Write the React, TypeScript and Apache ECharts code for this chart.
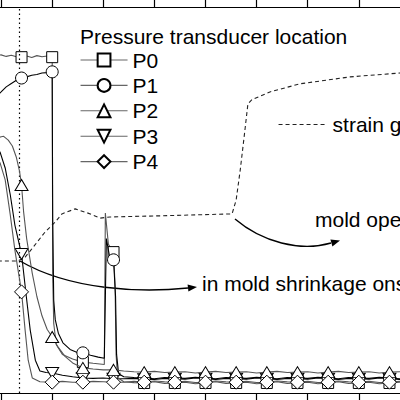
import React, { useEffect, useRef } from "react";
import * as echarts from "echarts";

// x positions (axis units, 1 unit = one tick) where the markers sit
const MARKER_X = [0.4, 1.0, 1.6, 2.2, 2.8, 3.4, 4.0, 4.6, 5.2, 5.8, 6.4, 7.0, 7.6, 8.2, 8.8];

// common x grid for the flat tail of all pressure curves
const TAIL_X = [2.4, 2.6, 2.8, 3.0, 3.2, 3.4, 3.6, 3.8, 4.0, 4.2, 4.4, 4.6, 4.8, 5.0, 5.2, 5.4, 5.6, 5.8, 6.0, 6.2, 6.4, 6.6, 6.8, 7.0, 7.2, 7.4, 7.6, 7.8, 8.0, 8.2, 8.4, 8.6, 8.8, 9.0];

const P0_HEAD = [
  [-0.2, 87.4], [0.0, 87.6], [0.1, 87.2], [0.2, 87.5], [0.3, 87.1], [0.4, 87.0], [0.5, 87.3], [0.6, 86.9],
  [0.7, 87.4], [0.8, 87.1], [0.9, 87.3], [1.0, 87.0], [1.01, 30.0], [1.03, 18.0], [1.08, 12.5], [1.2, 10.0],
  [1.4, 8.8], [1.6, 8.0], [1.8, 7.7], [2.02, 7.4], [2.04, 46.6], [2.1, 38.5], [2.2, 36.5], [2.23, 28.0],
  [2.25, 10.0], [2.28, 4.0],
];
const P0_TAIL = [2.9, 2.7, 2.6, 2.9, 2.5, 2.6, 2.8, 2.4, 2.6, 2.9, 2.5, 2.6, 2.8, 2.4, 2.6, 2.9, 2.5, 2.6, 2.8, 2.4, 2.6, 2.9, 2.5, 2.6, 2.8, 2.4, 2.6, 2.8, 2.5, 2.6, 2.7, 2.5, 2.6, 2.7];

const P1_HEAD = [
  [-0.2, 75.5], [0.0, 78.0], [0.1, 79.3], [0.2, 80.2], [0.3, 81.0], [0.4, 81.6], [0.5, 81.9], [0.6, 82.3],
  [0.7, 82.5], [0.8, 82.9], [0.9, 83.0], [1.0, 83.2], [1.01, 45.0], [1.03, 24.0], [1.06, 19.0], [1.12, 15.5],
  [1.21, 13.0], [1.35, 11.3], [1.49, 10.5], [1.6, 10.4], [1.75, 9.8], [1.9, 9.3], [2.02, 9.0], [2.06, 40.0],
  [2.12, 35.5], [2.2, 34.5], [2.24, 25.0], [2.26, 10.0], [2.3, 5.0],
];
const P1_TAIL = [4.2, 4.0, 3.9, 3.7, 4.0, 3.9, 3.8, 4.1, 3.9, 3.7, 4.0, 3.9, 3.8, 4.1, 3.9, 3.7, 4.0, 3.9, 3.8, 4.1, 3.9, 3.7, 4.0, 3.9, 3.8, 4.1, 3.9, 3.7, 4.0, 3.9, 3.8, 4.0, 3.9, 3.8];

const P2_HEAD = [
  [-0.2, 63.5], [-0.02, 66.3], [0.05, 66.5], [0.14, 65.5], [0.22, 64.0], [0.3, 61.0], [0.36, 57.5], [0.4, 53.9],
  [0.44, 47.0], [0.5, 40.0], [0.61, 31.0], [0.7, 25.0], [0.8, 20.0], [0.9, 16.5], [1.0, 14.5], [1.12, 11.8],
  [1.25, 9.5], [1.4, 7.8], [1.6, 6.5], [1.8, 6.2], [2.0, 6.0], [2.2, 6.0],
];
const P2_TAIL = [5.7, 5.5, 5.4, 5.6, 5.3, 5.4, 5.5, 5.2, 5.4, 5.6, 5.3, 5.4, 5.5, 5.2, 5.4, 5.6, 5.3, 5.4, 5.5, 5.2, 5.4, 5.6, 5.3, 5.4, 5.5, 5.2, 5.4, 5.5, 5.3, 5.4, 5.5, 5.3, 5.4, 5.5];

const P3_HEAD = [
  [-0.2, 64.8], [-0.02, 62.4], [0.08, 58.3], [0.18, 51.3], [0.27, 43.5], [0.4, 36.0], [0.49, 25.4], [0.57, 16.3],
  [0.67, 8.5], [0.76, 5.7], [0.88, 5.3], [1.0, 5.2], [1.2, 4.6], [1.4, 4.2], [1.6, 3.9], [1.8, 3.8], [2.0, 3.9], [2.2, 3.7],
];
const P3_TAIL = [3.7, 3.8, 3.6, 3.5, 3.8, 3.7, 3.6, 3.9, 3.7, 3.5, 3.8, 3.7, 3.6, 3.9, 3.7, 3.5, 3.8, 3.7, 3.6, 3.9, 3.7, 3.5, 3.8, 3.7, 3.6, 3.9, 3.7, 3.5, 3.8, 3.7, 3.6, 3.8, 3.7, 3.6];

const P4_HEAD = [
  [-0.2, 62.0], [-0.02, 59.6], [0.08, 55.2], [0.18, 46.1], [0.27, 37.0], [0.4, 26.2], [0.47, 16.3], [0.53, 8.5],
  [0.61, 3.9], [0.76, 2.9], [1.0, 2.8], [1.2, 3.0], [1.4, 2.8], [1.6, 2.8], [1.8, 3.0], [2.0, 2.9], [2.2, 2.8],
];
const P4_TAIL = [2.8, 3.0, 2.8, 3.1, 2.9, 2.8, 3.0, 2.7, 2.8, 3.1, 2.9, 2.8, 3.0, 2.7, 2.8, 3.1, 2.9, 2.8, 3.0, 2.7, 2.8, 3.1, 2.9, 2.8, 3.0, 2.7, 2.8, 3.0, 2.9, 2.8, 3.0, 2.8, 2.8, 2.9];

const STRAIN = [
  [-0.2, 34.2], [0.33, 34.2], [0.47, 35.2], [0.57, 36.8], [0.86, 41.7], [1.06, 44.3], [1.19, 46.4], [1.45, 47.7],
  [1.7, 46.6], [1.94, 45.3], [2.13, 45.6], [3.11, 45.9], [4.52, 46.4], [4.6, 50.0], [4.68, 57.8], [4.76, 66.8],
  [4.83, 74.9], [4.91, 76.0], [5.07, 76.9], [5.26, 78.0], [5.85, 80.1], [6.83, 81.9], [7.81, 82.9], [8.98, 83.4],
];

const SHRINK_ONSET_X = 0.35;

const SERIES_NAMES = ["P0", "P1", "P2", "P3", "P4"];
const LEGEND_TITLE = "Pressure transducer location";
const STRAIN_NAME = "strain gauge";
const MOLD_OPENING = "mold opening";
const SHRINK_LABEL = "in mold shrinkage onset";

const FONT = '"Liberation Sans", Arial, Helvetica, sans-serif';
const FS = 21;
// the chart canvas is shifted left so the plot's left edge falls outside the view
const OX = 60;

function build(head: number[][], tail: number[]) {
  const pts = head.concat(TAIL_X.map((x, i) => [x, tail[i]]).filter((p) => p[1] !== undefined));
  return pts.map(([x, y]) =>
    MARKER_X.some((m) => Math.abs(m - x) < 1e-6) ? { value: [x, y] } : { value: [x, y], symbol: "none" }
  );
}

function pSeries(name: string, data: any, symbol: string, size: any, color: string, z: number, rotate = 0) {
  return {
    name,
    type: "line",
    data: build(data[0], data[1]),
    symbol,
    symbolSize: size,
    symbolRotate: rotate,
    showSymbol: true,
    showAllSymbol: true,
    lineStyle: { color, width: 1.1 },
    itemStyle: { color: "#fff", borderColor: "#000", borderWidth: 1 },
    emphasis: { disabled: true },
    z,
  };
}

export default function App() {
  const ref = useRef<HTMLDivElement>(null);
  useEffect(() => {
    if (!ref.current) return;
    const chart = echarts.init(ref.current, undefined, { renderer: "svg" });
    const axisCommon = {
      type: "value",
      min: -1,
      max: 9,
      interval: 1,
      axisLine: { show: true, onZero: false, lineStyle: { color: "#000", width: 1.2 } },
      axisTick: { show: true, inside: false, length: 7, lineStyle: { color: "#000", width: 1.2 } },
      axisLabel: { show: false },
      splitLine: { show: false },
      minorTick: { show: false },
    };
    const legendText = { fontSize: FS, color: "#000", fontFamily: FONT };
    const txt = (text: string, x: number, y: number) => ({
      type: "text",
      x: x + OX,
      y,
      style: { text, fill: "#000", font: `${FS}px ${FONT}`, verticalAlign: "middle" },
    });
    chart.setOption({
      animation: false,
      backgroundColor: "#fff",
      grid: { left: 10, top: 7, width: 511, height: 386 },
      xAxis: [
        { ...axisCommon, position: "bottom" },
        { ...axisCommon, position: "top" },
      ],
      yAxis: { type: "value", min: 0, max: 100, show: false },
      legend: [
        {
          data: SERIES_NAMES,
          orient: "vertical",
          left: 80 + OX,
          top: 49.5,
          padding: 0,
          itemWidth: 47,
          itemHeight: 16,
          itemGap: 4.4,
          selectedMode: false,
          textStyle: legendText,
          lineStyle: { width: 1.1, color: "#666" },
        },
        {
          data: [{ name: STRAIN_NAME, itemStyle: { opacity: 0 } }],
          left: 278 + OX,
          top: 114,
          padding: 0,
          itemWidth: 46,
          itemHeight: 16,
          selectedMode: false,
          textStyle: { ...legendText, padding: [0, 0, 0, 3] },
          lineStyle: { width: 1.1 },
        },
      ],
      graphic: [
        txt(LEGEND_TITLE, 80, 36),
        txt(MOLD_OPENING, 315, 219),
        txt(SHRINK_LABEL, 202, 283),
        {
          type: "bezierCurve",
          shape: { x1: 235 + OX, y1: 219, cpx1: 262 + OX, cpy1: 242, cpx2: 300 + OX, cpy2: 252, x2: 331 + OX, y2: 243 },
          style: { stroke: "#000", lineWidth: 1.4, fill: null },
        },
        {
          type: "polygon",
          shape: { points: [[340 + OX, 240.5], [332.4 + OX, 246.4], [330.4 + OX, 239.6]] },
          style: { fill: "#000" },
        },
        {
          type: "bezierCurve",
          shape: { x1: 20 + OX, y1: 261, cpx1: 70 + OX, cpy1: 290, cpx2: 140 + OX, cpy2: 293, x2: 188 + OX, y2: 288 },
          style: { stroke: "#000", lineWidth: 1.4, fill: null },
        },
        {
          type: "polygon",
          shape: { points: [[197 + OX, 287], [188.4 + OX, 291.5], [187.6 + OX, 284.5]] },
          style: { fill: "#000" },
        },
      ],
      series: [
        {
          name: STRAIN_NAME,
          type: "line",
          data: STRAIN,
          symbol: "none",
          lineStyle: { color: "#222", width: 1.1, type: [4, 3] },
          itemStyle: { color: "#222" },
          emphasis: { disabled: true },
          z: 2,
          markLine: {
            silent: true,
            symbol: ["none", "none"],
            label: { show: false },
            lineStyle: { color: "#000", width: 1.2, type: [1.5, 3] },
            data: [{ xAxis: SHRINK_ONSET_X }],
          },
        },
        pSeries("P0", [P0_HEAD, P0_TAIL], "rect", 11, "#555", 4),
        pSeries("P1", [P1_HEAD, P1_TAIL], "circle", 12, "#000", 5),
        pSeries("P2", [P2_HEAD, P2_TAIL], "triangle", [13, 11], "#555", 6),
        pSeries("P3", [P3_HEAD, P3_TAIL], "triangle", [13, 11], "#000", 3, 180),
        pSeries("P4", [P4_HEAD, P4_TAIL], "diamond", 14, "#555", 7),
      ],
    });
    return () => chart.dispose();
  }, []);
  return (
    <div style={{ position: "fixed", left: 0, top: 0, width: 400, height: 400, overflow: "hidden", background: "#fff" }}>
      <div
        ref={ref}
        style={{ position: "absolute", left: -OX, top: 0, width: 531, height: 400 }}
      />
    </div>
  );
}
